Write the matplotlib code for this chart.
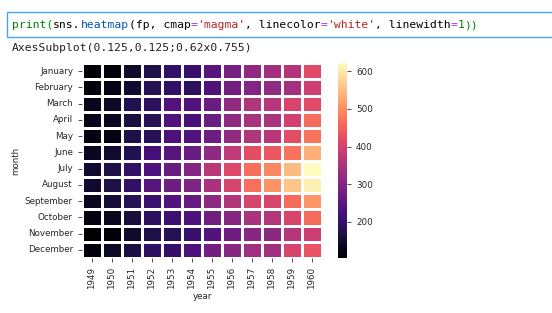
import numpy as np
import pandas as pd
import matplotlib
matplotlib.use('Agg')
import matplotlib.pyplot as plt
import seaborn as sns
from matplotlib.patches import Rectangle

# flights data (passengers, thousands)
months = ["January", "February", "March", "April", "May", "June", "July",
          "August", "September", "October", "November", "December"]
years = [1949, 1950, 1951, 1952, 1953, 1954, 1955, 1956, 1957, 1958, 1959, 1960]
p1949 = [112, 118, 132, 129, 121, 135, 148, 148, 136, 119, 104, 118]
p1950 = [115, 126, 141, 135, 125, 149, 170, 170, 158, 133, 114, 140]
p1951 = [145, 150, 178, 163, 172, 178, 199, 199, 184, 162, 146, 166]
p1952 = [171, 180, 193, 181, 183, 218, 230, 242, 209, 191, 172, 194]
p1953 = [196, 196, 236, 235, 229, 243, 264, 272, 237, 211, 180, 201]
p1954 = [204, 188, 235, 227, 234, 264, 302, 293, 259, 229, 203, 229]
p1955 = [242, 233, 267, 269, 270, 315, 364, 347, 312, 274, 237, 278]
p1956 = [284, 277, 317, 313, 318, 374, 413, 405, 355, 306, 271, 306]
p1957 = [315, 301, 356, 348, 355, 422, 465, 467, 404, 347, 305, 336]
p1958 = [340, 318, 362, 348, 363, 435, 491, 505, 404, 359, 310, 337]
p1959 = [360, 342, 406, 396, 420, 472, 548, 559, 463, 407, 362, 405]
p1960 = [417, 391, 419, 461, 472, 535, 622, 606, 508, 461, 390, 432]

cols = [p1949, p1950, p1951, p1952, p1953, p1954, p1955, p1956, p1957, p1958, p1959, p1960]
fp = pd.DataFrame(np.array(cols).T, index=months, columns=years)
fp.index.name = "month"
fp.columns.name = "year"

W, H = 552, 313
fig = plt.figure(figsize=(W / 100, H / 100), dpi=100)

# notebook cell
fig.patches.append(Rectangle((7 / W, 1 - 37 / H), 560 / W, 25 / H, transform=fig.transFigure,
                             facecolor='white', edgecolor='#42a5f5', lw=1.0))
code = [("print(", "#008000"), ("sns.", "#000000"), ("heatmap", "#0055aa"), ("(fp, cmap", "#000000"),
        ("=", "#aa22ff"), ("'magma'", "#ba2121"), (", linecolor", "#000000"), ("=", "#aa22ff"),
        ("'white'", "#ba2121"), (", linewidth", "#000000"), ("=", "#aa22ff"), ("1", "#008000"),
        ("))", "#008000")]
fs_code = 8.2
cw = 0.602 * fs_code * 100 / 72
x = 12
for s, c in code:
    fig.text(x / W, 1 - 25 / H, s, family='DejaVu Sans Mono', fontsize=fs_code, color=c, va='center')
    x += cw * len(s)
fig.text(12 / W, 1 - 48 / H, "AxesSubplot(0.125,0.125;0.62x0.755)", family='DejaVu Sans Mono',
         fontsize=fs_code, color='#222222', va='center')

ax = fig.add_axes([82 / W, 55 / H, 240 / W, 195 / H])
cax = fig.add_axes([338 / W, 55 / H, 9 / W, 195 / H])
hm = sns.heatmap(fp, cmap='magma', linecolor='white', linewidth=0.9, ax=ax, cbar_ax=cax)

fs = 6.3
ax.tick_params(labelsize=fs, length=3, width=0.6, colors='#333333', labelcolor='#262626')
ax.set_yticklabels(months, rotation=0)
ax.set_xticklabels([str(y) for y in years], rotation=90)
ax.set_xlabel("year", fontsize=fs, color='#262626', labelpad=2)
ax.set_ylabel("month", fontsize=fs, color='#262626', labelpad=3)
cax.tick_params(labelsize=fs, length=3, width=0.6, colors='#333333', labelcolor='#262626')
cax.set_yticks([200, 300, 400, 500, 600])

fig.savefig("out.png", dpi=100)
